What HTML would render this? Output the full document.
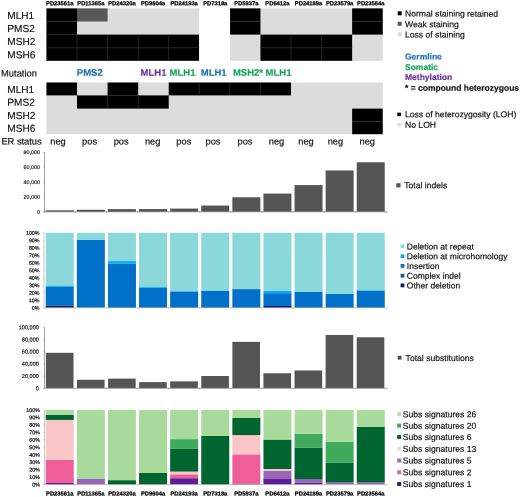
<!DOCTYPE html>
<html><head><meta charset="utf-8"><title>Figure</title>
<style>
html,body{margin:0;padding:0;background:#fff;}
svg{display:block;font-family:"Liberation Sans",Arial,sans-serif;filter:blur(0.3px);}
</style></head><body>
<svg width="520" height="497" viewBox="0 0 520 497">
<rect x="0" y="0" width="520" height="497" fill="#fff"/>
<rect x="46.45" y="8.40" width="336.27" height="52.40" fill="#dcdcdc" />
<rect x="46.45" y="8.40" width="30.57" height="13.40" fill="#000" />
<rect x="77.02" y="8.40" width="30.57" height="13.10" fill="#575757" />
<rect x="229.87" y="8.40" width="30.57" height="13.40" fill="#000" />
<rect x="352.15" y="8.40" width="30.57" height="13.40" fill="#000" />
<rect x="46.45" y="21.50" width="30.57" height="13.40" fill="#000" />
<rect x="229.87" y="21.50" width="30.57" height="13.10" fill="#000" />
<rect x="352.15" y="21.50" width="30.57" height="13.10" fill="#000" />
<rect x="46.45" y="34.60" width="152.85" height="13.40" fill="#000" />
<rect x="260.44" y="34.60" width="91.71" height="13.40" fill="#000" />
<rect x="46.45" y="47.70" width="152.85" height="13.10" fill="#000" />
<rect x="260.44" y="47.70" width="91.71" height="13.10" fill="#000" />
<rect x="199.10" y="7.90" width="30.97" height="53.40" fill="#fff" />
<line x1="46.45" y1="21.50" x2="77.02" y2="21.50" stroke="#484848" stroke-width="0.5"/>
<line x1="229.87" y1="21.50" x2="260.44" y2="21.50" stroke="#484848" stroke-width="0.5"/>
<line x1="352.15" y1="21.50" x2="382.72" y2="21.50" stroke="#484848" stroke-width="0.5"/>
<line x1="46.45" y1="34.60" x2="77.02" y2="34.60" stroke="#484848" stroke-width="0.5"/>
<line x1="77.02" y1="34.60" x2="77.02" y2="47.70" stroke="#484848" stroke-width="0.5"/>
<line x1="46.45" y1="47.70" x2="77.02" y2="47.70" stroke="#484848" stroke-width="0.5"/>
<line x1="107.59" y1="34.60" x2="107.59" y2="47.70" stroke="#484848" stroke-width="0.5"/>
<line x1="77.02" y1="47.70" x2="107.59" y2="47.70" stroke="#484848" stroke-width="0.5"/>
<line x1="138.16" y1="34.60" x2="138.16" y2="47.70" stroke="#484848" stroke-width="0.5"/>
<line x1="107.59" y1="47.70" x2="138.16" y2="47.70" stroke="#484848" stroke-width="0.5"/>
<line x1="168.73" y1="34.60" x2="168.73" y2="47.70" stroke="#484848" stroke-width="0.5"/>
<line x1="138.16" y1="47.70" x2="168.73" y2="47.70" stroke="#484848" stroke-width="0.5"/>
<line x1="168.73" y1="47.70" x2="199.30" y2="47.70" stroke="#484848" stroke-width="0.5"/>
<line x1="291.01" y1="34.60" x2="291.01" y2="47.70" stroke="#484848" stroke-width="0.5"/>
<line x1="260.44" y1="47.70" x2="291.01" y2="47.70" stroke="#484848" stroke-width="0.5"/>
<line x1="321.58" y1="34.60" x2="321.58" y2="47.70" stroke="#484848" stroke-width="0.5"/>
<line x1="291.01" y1="47.70" x2="321.58" y2="47.70" stroke="#484848" stroke-width="0.5"/>
<line x1="321.58" y1="47.70" x2="352.15" y2="47.70" stroke="#484848" stroke-width="0.5"/>
<line x1="77.02" y1="47.70" x2="77.02" y2="60.80" stroke="#484848" stroke-width="0.5"/>
<line x1="107.59" y1="47.70" x2="107.59" y2="60.80" stroke="#484848" stroke-width="0.5"/>
<line x1="138.16" y1="47.70" x2="138.16" y2="60.80" stroke="#484848" stroke-width="0.5"/>
<line x1="168.73" y1="47.70" x2="168.73" y2="60.80" stroke="#484848" stroke-width="0.5"/>
<line x1="291.01" y1="47.70" x2="291.01" y2="60.80" stroke="#484848" stroke-width="0.5"/>
<line x1="321.58" y1="47.70" x2="321.58" y2="60.80" stroke="#484848" stroke-width="0.5"/>
<rect x="46.45" y="82.50" width="336.27" height="51.70" fill="#dcdcdc" />
<rect x="46.45" y="82.50" width="30.57" height="12.90" fill="#000" />
<rect x="107.59" y="82.50" width="30.57" height="13.20" fill="#000" />
<rect x="168.73" y="82.50" width="122.28" height="12.90" fill="#000" />
<rect x="77.02" y="95.40" width="91.71" height="13.20" fill="#000" />
<rect x="352.15" y="108.60" width="30.57" height="13.10" fill="#000" />
<rect x="352.15" y="121.40" width="30.57" height="12.80" fill="#000" />
<line x1="107.59" y1="95.40" x2="138.16" y2="95.40" stroke="#484848" stroke-width="0.5"/>
<line x1="199.30" y1="82.50" x2="199.30" y2="95.40" stroke="#484848" stroke-width="0.5"/>
<line x1="229.87" y1="82.50" x2="229.87" y2="95.40" stroke="#484848" stroke-width="0.5"/>
<line x1="260.44" y1="82.50" x2="260.44" y2="95.40" stroke="#484848" stroke-width="0.5"/>
<line x1="107.59" y1="95.40" x2="107.59" y2="108.60" stroke="#484848" stroke-width="0.5"/>
<line x1="138.16" y1="95.40" x2="138.16" y2="108.60" stroke="#484848" stroke-width="0.5"/>
<line x1="352.15" y1="121.40" x2="382.72" y2="121.40" stroke="#484848" stroke-width="0.5"/>
<text x="59.75" y="5.25" transform="rotate(0.03 59.75 5.25)" font-size="5.8" fill="#000" text-anchor="middle" font-weight="bold"  stroke="#000" stroke-width="0.25">PD23561a</text>
<text x="90.85" y="5.25" transform="rotate(0.03 90.85 5.25)" font-size="5.8" fill="#000" text-anchor="middle" font-weight="bold"  stroke="#000" stroke-width="0.25">PD11365a</text>
<text x="121.95" y="5.25" transform="rotate(0.03 121.95 5.25)" font-size="5.8" fill="#000" text-anchor="middle" font-weight="bold"  stroke="#000" stroke-width="0.25">PD24320a</text>
<text x="153.05" y="5.25" transform="rotate(0.03 153.05 5.25)" font-size="5.8" fill="#000" text-anchor="middle" font-weight="bold"  stroke="#000" stroke-width="0.25">PD9604a</text>
<text x="184.15" y="5.25" transform="rotate(0.03 184.15 5.25)" font-size="5.8" fill="#000" text-anchor="middle" font-weight="bold"  stroke="#000" stroke-width="0.25">PD24193a</text>
<text x="215.25" y="5.25" transform="rotate(0.03 215.25 5.25)" font-size="5.8" fill="#000" text-anchor="middle" font-weight="bold"  stroke="#000" stroke-width="0.25">PD7318a</text>
<text x="246.35" y="5.25" transform="rotate(0.03 246.35 5.25)" font-size="5.8" fill="#000" text-anchor="middle" font-weight="bold"  stroke="#000" stroke-width="0.25">PD5937a</text>
<text x="277.45" y="5.25" transform="rotate(0.03 277.45 5.25)" font-size="5.8" fill="#000" text-anchor="middle" font-weight="bold"  stroke="#000" stroke-width="0.25">PD6412a</text>
<text x="308.55" y="5.25" transform="rotate(0.03 308.55 5.25)" font-size="5.8" fill="#000" text-anchor="middle" font-weight="bold"  stroke="#000" stroke-width="0.25">PD24189a</text>
<text x="339.65" y="5.25" transform="rotate(0.03 339.65 5.25)" font-size="5.8" fill="#000" text-anchor="middle" font-weight="bold"  stroke="#000" stroke-width="0.25">PD23579a</text>
<text x="370.75" y="5.25" transform="rotate(0.03 370.75 5.25)" font-size="5.8" fill="#000" text-anchor="middle" font-weight="bold"  stroke="#000" stroke-width="0.25">PD23564a</text>
<text x="7.30" y="18.90" transform="rotate(0.03 7.30 18.90)" font-size="10.1" fill="#111" text-anchor="start" font-weight="normal"  stroke="#111" stroke-width="0.18">MLH1</text>
<text x="7.30" y="92.90" transform="rotate(0.03 7.30 92.90)" font-size="10.1" fill="#111" text-anchor="start" font-weight="normal"  stroke="#111" stroke-width="0.18">MLH1</text>
<text x="7.30" y="32.00" transform="rotate(0.03 7.30 32.00)" font-size="10.1" fill="#111" text-anchor="start" font-weight="normal"  stroke="#111" stroke-width="0.18">PMS2</text>
<text x="7.30" y="105.80" transform="rotate(0.03 7.30 105.80)" font-size="10.1" fill="#111" text-anchor="start" font-weight="normal"  stroke="#111" stroke-width="0.18">PMS2</text>
<text x="7.30" y="45.10" transform="rotate(0.03 7.30 45.10)" font-size="10.1" fill="#111" text-anchor="start" font-weight="normal"  stroke="#111" stroke-width="0.18">MSH2</text>
<text x="7.30" y="119.00" transform="rotate(0.03 7.30 119.00)" font-size="10.1" fill="#111" text-anchor="start" font-weight="normal"  stroke="#111" stroke-width="0.18">MSH2</text>
<text x="7.30" y="58.20" transform="rotate(0.03 7.30 58.20)" font-size="10.1" fill="#111" text-anchor="start" font-weight="normal"  stroke="#111" stroke-width="0.18">MSH6</text>
<text x="7.30" y="131.80" transform="rotate(0.03 7.30 131.80)" font-size="10.1" fill="#111" text-anchor="start" font-weight="normal"  stroke="#111" stroke-width="0.18">MSH6</text>
<text x="1.00" y="76.40" transform="rotate(0.03 1.00 76.40)" font-size="9.4" fill="#111" text-anchor="start" font-weight="normal"  stroke="#111" stroke-width="0.18">Mutation</text>
<text x="1.40" y="144.40" transform="rotate(0.03 1.40 144.40)" font-size="9.3" fill="#111" text-anchor="start" font-weight="normal"  stroke="#111" stroke-width="0.18">ER status</text>
<text x="58.00" y="144.40" transform="rotate(0.03 58.00 144.40)" font-size="9.3" fill="#111" text-anchor="middle" font-weight="normal"  stroke="#111" stroke-width="0.18">neg</text>
<text x="89.60" y="144.40" transform="rotate(0.03 89.60 144.40)" font-size="9.3" fill="#111" text-anchor="middle" font-weight="normal"  stroke="#111" stroke-width="0.18">pos</text>
<text x="121.20" y="144.40" transform="rotate(0.03 121.20 144.40)" font-size="9.3" fill="#111" text-anchor="middle" font-weight="normal"  stroke="#111" stroke-width="0.18">pos</text>
<text x="152.70" y="144.40" transform="rotate(0.03 152.70 144.40)" font-size="9.3" fill="#111" text-anchor="middle" font-weight="normal"  stroke="#111" stroke-width="0.18">neg</text>
<text x="183.80" y="144.40" transform="rotate(0.03 183.80 144.40)" font-size="9.3" fill="#111" text-anchor="middle" font-weight="normal"  stroke="#111" stroke-width="0.18">pos</text>
<text x="213.00" y="144.40" transform="rotate(0.03 213.00 144.40)" font-size="9.3" fill="#111" text-anchor="middle" font-weight="normal"  stroke="#111" stroke-width="0.18">pos</text>
<text x="245.00" y="144.40" transform="rotate(0.03 245.00 144.40)" font-size="9.3" fill="#111" text-anchor="middle" font-weight="normal"  stroke="#111" stroke-width="0.18">pos</text>
<text x="276.50" y="144.40" transform="rotate(0.03 276.50 144.40)" font-size="9.3" fill="#111" text-anchor="middle" font-weight="normal"  stroke="#111" stroke-width="0.18">neg</text>
<text x="306.00" y="144.40" transform="rotate(0.03 306.00 144.40)" font-size="9.3" fill="#111" text-anchor="middle" font-weight="normal"  stroke="#111" stroke-width="0.18">neg</text>
<text x="335.40" y="144.40" transform="rotate(0.03 335.40 144.40)" font-size="9.3" fill="#111" text-anchor="middle" font-weight="normal"  stroke="#111" stroke-width="0.18">neg</text>
<text x="367.30" y="144.40" transform="rotate(0.03 367.30 144.40)" font-size="9.3" fill="#111" text-anchor="middle" font-weight="normal"  stroke="#111" stroke-width="0.18">neg</text>
<text x="76.80" y="75.80" transform="rotate(0.03 76.80 75.80)" font-size="9.5" fill="#1f6fb5" text-anchor="start" font-weight="bold"  stroke="#1f6fb5" stroke-width="0.18">PMS2</text>
<text x="140.60" y="75.80" transform="rotate(0.03 140.60 75.80)" font-size="9.5" fill="#6a2fa0" text-anchor="start" font-weight="bold"  stroke="#6a2fa0" stroke-width="0.18">MLH1</text>
<text x="169.60" y="75.80" transform="rotate(0.03 169.60 75.80)" font-size="9.5" fill="#14a558" text-anchor="start" font-weight="bold"  stroke="#14a558" stroke-width="0.18">MLH1</text>
<text x="200.80" y="75.80" transform="rotate(0.03 200.80 75.80)" font-size="9.5" fill="#1f6fb5" text-anchor="start" font-weight="bold"  stroke="#1f6fb5" stroke-width="0.18">MLH1</text>
<text x="232.90" y="75.80" transform="rotate(0.03 232.90 75.80)" font-size="9.5" fill="#14a558" text-anchor="start" font-weight="bold"  stroke="#14a558" stroke-width="0.18">MSH2*</text>
<text x="265.60" y="75.80" transform="rotate(0.03 265.60 75.80)" font-size="9.5" fill="#14a558" text-anchor="start" font-weight="bold"  stroke="#14a558" stroke-width="0.18">MLH1</text>
<rect x="397.70" y="11.30" width="4.00" height="4.00" fill="#000" />
<text x="405.00" y="16.60" transform="rotate(0.03 405.00 16.60)" font-size="8.6" fill="#111" text-anchor="start" font-weight="normal"  stroke="#111" stroke-width="0.18">Normal staining retained</text>
<rect x="397.70" y="21.80" width="4.00" height="4.00" fill="#555" />
<text x="405.00" y="27.20" transform="rotate(0.03 405.00 27.20)" font-size="8.6" fill="#111" text-anchor="start" font-weight="normal"  stroke="#111" stroke-width="0.18">Weak staining</text>
<rect x="397.70" y="32.20" width="4.00" height="4.00" fill="#dcdcdc" />
<text x="405.00" y="37.60" transform="rotate(0.03 405.00 37.60)" font-size="8.6" fill="#111" text-anchor="start" font-weight="normal"  stroke="#111" stroke-width="0.18">Loss of staining</text>
<text x="405.00" y="59.40" transform="rotate(0.03 405.00 59.40)" font-size="8.5" fill="#1f6fb5" text-anchor="start" font-weight="bold"  stroke="#1f6fb5" stroke-width="0.18">Germline</text>
<text x="405.00" y="70.00" transform="rotate(0.03 405.00 70.00)" font-size="8.5" fill="#14a558" text-anchor="start" font-weight="bold"  stroke="#14a558" stroke-width="0.18">Somatic</text>
<text x="405.00" y="80.00" transform="rotate(0.03 405.00 80.00)" font-size="8.5" fill="#6a2fa0" text-anchor="start" font-weight="bold"  stroke="#6a2fa0" stroke-width="0.18">Methylation</text>
<text x="405.00" y="90.80" transform="rotate(0.03 405.00 90.80)" font-size="8.5" fill="#111" text-anchor="start" font-weight="bold"  stroke="#111" stroke-width="0.18">* = compound heterozygous</text>
<rect x="397.30" y="112.60" width="3.60" height="3.60" fill="#000" />
<text x="405.00" y="117.30" transform="rotate(0.03 405.00 117.30)" font-size="8.6" fill="#111" text-anchor="start" font-weight="normal"  stroke="#111" stroke-width="0.18">Loss of heterozygosity (LOH)</text>
<rect x="397.30" y="122.80" width="3.60" height="3.60" fill="#dcdcdc" />
<text x="405.00" y="127.80" transform="rotate(0.03 405.00 127.80)" font-size="8.6" fill="#111" text-anchor="start" font-weight="normal"  stroke="#111" stroke-width="0.18">No LOH</text>
<rect x="45.75" y="210.31" width="28.00" height="1.49" fill="#555555" />
<rect x="76.85" y="209.79" width="28.00" height="2.01" fill="#555555" />
<rect x="107.95" y="209.12" width="28.00" height="2.68" fill="#555555" />
<rect x="139.05" y="209.04" width="28.00" height="2.76" fill="#555555" />
<rect x="170.15" y="208.60" width="28.00" height="3.20" fill="#555555" />
<rect x="201.25" y="205.54" width="28.00" height="6.26" fill="#555555" />
<rect x="232.35" y="197.27" width="28.00" height="14.53" fill="#555555" />
<rect x="263.45" y="193.55" width="28.00" height="18.25" fill="#555555" />
<rect x="294.55" y="185.05" width="28.00" height="26.75" fill="#555555" />
<rect x="325.65" y="170.45" width="28.00" height="41.35" fill="#555555" />
<rect x="356.75" y="162.26" width="28.00" height="49.54" fill="#555555" />
<line x1="44.50" y1="152.20" x2="44.50" y2="212.10" stroke="#7a7a7a" stroke-width="0.7"/>
<line x1="44.50" y1="211.80" x2="387.50" y2="211.80" stroke="#7a7a7a" stroke-width="0.7"/>
<line x1="43.30" y1="152.20" x2="44.50" y2="152.20" stroke="#7a7a7a" stroke-width="0.5"/>
<text x="40.00" y="154.13" transform="rotate(0.03 40.00 154.13)" font-size="5.4" fill="#1a1a1a" text-anchor="end" font-weight="normal"  stroke="#1a1a1a" stroke-width="0.18">80,000</text>
<line x1="43.30" y1="167.10" x2="44.50" y2="167.10" stroke="#7a7a7a" stroke-width="0.5"/>
<text x="40.00" y="169.03" transform="rotate(0.03 40.00 169.03)" font-size="5.4" fill="#1a1a1a" text-anchor="end" font-weight="normal"  stroke="#1a1a1a" stroke-width="0.18">60,000</text>
<line x1="43.30" y1="182.00" x2="44.50" y2="182.00" stroke="#7a7a7a" stroke-width="0.5"/>
<text x="40.00" y="183.93" transform="rotate(0.03 40.00 183.93)" font-size="5.4" fill="#1a1a1a" text-anchor="end" font-weight="normal"  stroke="#1a1a1a" stroke-width="0.18">40,000</text>
<line x1="43.30" y1="196.90" x2="44.50" y2="196.90" stroke="#7a7a7a" stroke-width="0.5"/>
<text x="40.00" y="198.83" transform="rotate(0.03 40.00 198.83)" font-size="5.4" fill="#1a1a1a" text-anchor="end" font-weight="normal"  stroke="#1a1a1a" stroke-width="0.18">20,000</text>
<line x1="43.30" y1="211.80" x2="44.50" y2="211.80" stroke="#7a7a7a" stroke-width="0.5"/>
<text x="40.00" y="213.73" transform="rotate(0.03 40.00 213.73)" font-size="5.4" fill="#1a1a1a" text-anchor="end" font-weight="normal"  stroke="#1a1a1a" stroke-width="0.18">0</text>
<line x1="44.20" y1="211.80" x2="44.20" y2="213.10" stroke="#7a7a7a" stroke-width="0.5"/>
<line x1="75.30" y1="211.80" x2="75.30" y2="213.10" stroke="#7a7a7a" stroke-width="0.5"/>
<line x1="106.40" y1="211.80" x2="106.40" y2="213.10" stroke="#7a7a7a" stroke-width="0.5"/>
<line x1="137.50" y1="211.80" x2="137.50" y2="213.10" stroke="#7a7a7a" stroke-width="0.5"/>
<line x1="168.60" y1="211.80" x2="168.60" y2="213.10" stroke="#7a7a7a" stroke-width="0.5"/>
<line x1="199.70" y1="211.80" x2="199.70" y2="213.10" stroke="#7a7a7a" stroke-width="0.5"/>
<line x1="230.80" y1="211.80" x2="230.80" y2="213.10" stroke="#7a7a7a" stroke-width="0.5"/>
<line x1="261.90" y1="211.80" x2="261.90" y2="213.10" stroke="#7a7a7a" stroke-width="0.5"/>
<line x1="293.00" y1="211.80" x2="293.00" y2="213.10" stroke="#7a7a7a" stroke-width="0.5"/>
<line x1="324.10" y1="211.80" x2="324.10" y2="213.10" stroke="#7a7a7a" stroke-width="0.5"/>
<line x1="355.20" y1="211.80" x2="355.20" y2="213.10" stroke="#7a7a7a" stroke-width="0.5"/>
<line x1="386.30" y1="211.80" x2="386.30" y2="213.10" stroke="#7a7a7a" stroke-width="0.5"/>
<rect x="396.30" y="183.20" width="4.20" height="4.20" fill="#555" />
<text x="404.30" y="188.30" transform="rotate(0.03 404.30 188.30)" font-size="8.6" fill="#111" text-anchor="start" font-weight="normal"  stroke="#111" stroke-width="0.18">Total indels</text>
<rect x="45.75" y="305.40" width="28.00" height="2.40" fill="#00205f" />
<rect x="45.75" y="286.65" width="28.00" height="18.85" fill="#0070c8" />
<rect x="45.75" y="285.45" width="28.00" height="1.30" fill="#00aeef" />
<rect x="45.75" y="232.80" width="28.00" height="52.75" fill="#8ad8da" />
<rect x="76.85" y="239.70" width="28.00" height="68.10" fill="#0070c8" />
<rect x="76.85" y="232.80" width="28.00" height="7.00" fill="#8ad8da" />
<rect x="107.95" y="307.20" width="28.00" height="0.60" fill="#00205f" />
<rect x="107.95" y="263.55" width="28.00" height="43.75" fill="#0070c8" />
<rect x="107.95" y="261.07" width="28.00" height="2.58" fill="#00aeef" />
<rect x="107.95" y="232.80" width="28.00" height="28.37" fill="#8ad8da" />
<rect x="139.05" y="307.20" width="28.00" height="0.60" fill="#00205f" />
<rect x="139.05" y="287.93" width="28.00" height="19.37" fill="#0070c8" />
<rect x="139.05" y="287.10" width="28.00" height="0.92" fill="#00aeef" />
<rect x="139.05" y="232.80" width="28.00" height="54.40" fill="#8ad8da" />
<rect x="170.15" y="307.20" width="28.00" height="0.60" fill="#00205f" />
<rect x="170.15" y="291.30" width="28.00" height="16.00" fill="#0070c8" />
<rect x="170.15" y="232.80" width="28.00" height="58.60" fill="#8ad8da" />
<rect x="201.25" y="307.20" width="28.00" height="0.60" fill="#00205f" />
<rect x="201.25" y="290.55" width="28.00" height="16.75" fill="#0070c8" />
<rect x="201.25" y="232.80" width="28.00" height="57.85" fill="#8ad8da" />
<rect x="232.35" y="307.20" width="28.00" height="0.60" fill="#00205f" />
<rect x="232.35" y="289.05" width="28.00" height="18.25" fill="#0070c8" />
<rect x="232.35" y="232.80" width="28.00" height="56.35" fill="#8ad8da" />
<rect x="263.45" y="305.93" width="28.00" height="1.88" fill="#00205f" />
<rect x="263.45" y="293.18" width="28.00" height="12.85" fill="#0070c8" />
<rect x="263.45" y="290.93" width="28.00" height="2.35" fill="#00aeef" />
<rect x="263.45" y="232.80" width="28.00" height="58.23" fill="#8ad8da" />
<rect x="294.55" y="307.20" width="28.00" height="0.60" fill="#00205f" />
<rect x="294.55" y="291.68" width="28.00" height="15.62" fill="#0070c8" />
<rect x="294.55" y="232.80" width="28.00" height="58.98" fill="#8ad8da" />
<rect x="325.65" y="307.20" width="28.00" height="0.60" fill="#00205f" />
<rect x="325.65" y="293.93" width="28.00" height="13.37" fill="#0070c8" />
<rect x="325.65" y="232.80" width="28.00" height="61.23" fill="#8ad8da" />
<rect x="356.75" y="307.20" width="28.00" height="0.60" fill="#00205f" />
<rect x="356.75" y="290.93" width="28.00" height="16.37" fill="#0070c8" />
<rect x="356.75" y="290.18" width="28.00" height="0.85" fill="#00aeef" />
<rect x="356.75" y="232.80" width="28.00" height="57.48" fill="#8ad8da" />
<line x1="43.90" y1="232.80" x2="43.90" y2="308.10" stroke="#b5b5b5" stroke-width="0.7"/>
<line x1="43.90" y1="307.80" x2="387.50" y2="307.80" stroke="#b5b5b5" stroke-width="0.7"/>
<line x1="42.70" y1="232.80" x2="43.90" y2="232.80" stroke="#b5b5b5" stroke-width="0.5"/>
<text x="39.50" y="234.70" transform="rotate(0.03 39.50 234.70)" font-size="5.3" fill="#000" text-anchor="end" font-weight="normal"  stroke="#000" stroke-width="0.18">100%</text>
<line x1="42.70" y1="240.30" x2="43.90" y2="240.30" stroke="#b5b5b5" stroke-width="0.5"/>
<text x="39.50" y="242.20" transform="rotate(0.03 39.50 242.20)" font-size="5.3" fill="#000" text-anchor="end" font-weight="normal"  stroke="#000" stroke-width="0.18">90%</text>
<line x1="42.70" y1="247.80" x2="43.90" y2="247.80" stroke="#b5b5b5" stroke-width="0.5"/>
<text x="39.50" y="249.70" transform="rotate(0.03 39.50 249.70)" font-size="5.3" fill="#000" text-anchor="end" font-weight="normal"  stroke="#000" stroke-width="0.18">80%</text>
<line x1="42.70" y1="255.30" x2="43.90" y2="255.30" stroke="#b5b5b5" stroke-width="0.5"/>
<text x="39.50" y="257.20" transform="rotate(0.03 39.50 257.20)" font-size="5.3" fill="#000" text-anchor="end" font-weight="normal"  stroke="#000" stroke-width="0.18">70%</text>
<line x1="42.70" y1="262.80" x2="43.90" y2="262.80" stroke="#b5b5b5" stroke-width="0.5"/>
<text x="39.50" y="264.70" transform="rotate(0.03 39.50 264.70)" font-size="5.3" fill="#000" text-anchor="end" font-weight="normal"  stroke="#000" stroke-width="0.18">60%</text>
<line x1="42.70" y1="270.30" x2="43.90" y2="270.30" stroke="#b5b5b5" stroke-width="0.5"/>
<text x="39.50" y="272.20" transform="rotate(0.03 39.50 272.20)" font-size="5.3" fill="#000" text-anchor="end" font-weight="normal"  stroke="#000" stroke-width="0.18">50%</text>
<line x1="42.70" y1="277.80" x2="43.90" y2="277.80" stroke="#b5b5b5" stroke-width="0.5"/>
<text x="39.50" y="279.70" transform="rotate(0.03 39.50 279.70)" font-size="5.3" fill="#000" text-anchor="end" font-weight="normal"  stroke="#000" stroke-width="0.18">40%</text>
<line x1="42.70" y1="285.30" x2="43.90" y2="285.30" stroke="#b5b5b5" stroke-width="0.5"/>
<text x="39.50" y="287.20" transform="rotate(0.03 39.50 287.20)" font-size="5.3" fill="#000" text-anchor="end" font-weight="normal"  stroke="#000" stroke-width="0.18">30%</text>
<line x1="42.70" y1="292.80" x2="43.90" y2="292.80" stroke="#b5b5b5" stroke-width="0.5"/>
<text x="39.50" y="294.70" transform="rotate(0.03 39.50 294.70)" font-size="5.3" fill="#000" text-anchor="end" font-weight="normal"  stroke="#000" stroke-width="0.18">20%</text>
<line x1="42.70" y1="300.30" x2="43.90" y2="300.30" stroke="#b5b5b5" stroke-width="0.5"/>
<text x="39.50" y="302.20" transform="rotate(0.03 39.50 302.20)" font-size="5.3" fill="#000" text-anchor="end" font-weight="normal"  stroke="#000" stroke-width="0.18">10%</text>
<line x1="42.70" y1="307.80" x2="43.90" y2="307.80" stroke="#b5b5b5" stroke-width="0.5"/>
<text x="39.50" y="309.70" transform="rotate(0.03 39.50 309.70)" font-size="5.3" fill="#000" text-anchor="end" font-weight="normal"  stroke="#000" stroke-width="0.18">0%</text>
<line x1="44.20" y1="307.80" x2="44.20" y2="309.10" stroke="#b5b5b5" stroke-width="0.5"/>
<line x1="75.30" y1="307.80" x2="75.30" y2="309.10" stroke="#b5b5b5" stroke-width="0.5"/>
<line x1="106.40" y1="307.80" x2="106.40" y2="309.10" stroke="#b5b5b5" stroke-width="0.5"/>
<line x1="137.50" y1="307.80" x2="137.50" y2="309.10" stroke="#b5b5b5" stroke-width="0.5"/>
<line x1="168.60" y1="307.80" x2="168.60" y2="309.10" stroke="#b5b5b5" stroke-width="0.5"/>
<line x1="199.70" y1="307.80" x2="199.70" y2="309.10" stroke="#b5b5b5" stroke-width="0.5"/>
<line x1="230.80" y1="307.80" x2="230.80" y2="309.10" stroke="#b5b5b5" stroke-width="0.5"/>
<line x1="261.90" y1="307.80" x2="261.90" y2="309.10" stroke="#b5b5b5" stroke-width="0.5"/>
<line x1="293.00" y1="307.80" x2="293.00" y2="309.10" stroke="#b5b5b5" stroke-width="0.5"/>
<line x1="324.10" y1="307.80" x2="324.10" y2="309.10" stroke="#b5b5b5" stroke-width="0.5"/>
<line x1="355.20" y1="307.80" x2="355.20" y2="309.10" stroke="#b5b5b5" stroke-width="0.5"/>
<line x1="386.30" y1="307.80" x2="386.30" y2="309.10" stroke="#b5b5b5" stroke-width="0.5"/>
<rect x="400.60" y="244.40" width="3.80" height="3.80" fill="#8ad8da" />
<text x="406.80" y="249.40" transform="rotate(0.03 406.80 249.40)" font-size="8.5" fill="#111" text-anchor="start" font-weight="normal"  stroke="#111" stroke-width="0.18">Deletion at repeat</text>
<rect x="400.60" y="254.30" width="3.80" height="3.80" fill="#00aeef" />
<text x="406.80" y="259.30" transform="rotate(0.03 406.80 259.30)" font-size="8.5" fill="#111" text-anchor="start" font-weight="normal"  stroke="#111" stroke-width="0.18">Deletion at microhomology</text>
<rect x="400.60" y="264.00" width="3.80" height="3.80" fill="#0070c8" />
<text x="406.80" y="269.00" transform="rotate(0.03 406.80 269.00)" font-size="8.5" fill="#111" text-anchor="start" font-weight="normal"  stroke="#111" stroke-width="0.18">Insertion</text>
<rect x="400.60" y="273.80" width="3.80" height="3.80" fill="#1f5c85" />
<text x="406.80" y="278.80" transform="rotate(0.03 406.80 278.80)" font-size="8.5" fill="#111" text-anchor="start" font-weight="normal"  stroke="#111" stroke-width="0.18">Complex indel</text>
<rect x="400.60" y="283.50" width="3.80" height="3.80" fill="#00205f" />
<text x="406.80" y="288.50" transform="rotate(0.03 406.80 288.50)" font-size="8.5" fill="#111" text-anchor="start" font-weight="normal"  stroke="#111" stroke-width="0.18">Other deletion</text>
<rect x="45.90" y="352.82" width="27.60" height="35.38" fill="#555555" />
<rect x="76.98" y="379.78" width="27.60" height="8.42" fill="#555555" />
<rect x="108.06" y="378.62" width="27.60" height="9.58" fill="#555555" />
<rect x="139.14" y="382.10" width="27.60" height="6.10" fill="#555555" />
<rect x="170.22" y="381.37" width="27.60" height="6.83" fill="#555555" />
<rect x="201.30" y="376.00" width="27.60" height="12.20" fill="#555555" />
<rect x="232.38" y="341.84" width="27.60" height="46.36" fill="#555555" />
<rect x="263.46" y="373.25" width="27.60" height="14.95" fill="#555555" />
<rect x="294.54" y="370.51" width="27.60" height="17.69" fill="#555555" />
<rect x="325.62" y="334.95" width="27.60" height="53.25" fill="#555555" />
<rect x="356.70" y="337.26" width="27.60" height="50.93" fill="#555555" />
<line x1="44.50" y1="327.20" x2="44.50" y2="388.50" stroke="#7a7a7a" stroke-width="0.7"/>
<line x1="44.50" y1="388.20" x2="387.50" y2="388.20" stroke="#7a7a7a" stroke-width="0.7"/>
<line x1="43.30" y1="327.20" x2="44.50" y2="327.20" stroke="#7a7a7a" stroke-width="0.5"/>
<text x="38.90" y="329.20" transform="rotate(0.03 38.90 329.20)" font-size="5.6" fill="#1a1a1a" text-anchor="end" font-weight="normal"  stroke="#1a1a1a" stroke-width="0.18">100,000</text>
<line x1="43.30" y1="339.40" x2="44.50" y2="339.40" stroke="#7a7a7a" stroke-width="0.5"/>
<text x="38.90" y="341.40" transform="rotate(0.03 38.90 341.40)" font-size="5.6" fill="#1a1a1a" text-anchor="end" font-weight="normal"  stroke="#1a1a1a" stroke-width="0.18">80,000</text>
<line x1="43.30" y1="351.60" x2="44.50" y2="351.60" stroke="#7a7a7a" stroke-width="0.5"/>
<text x="38.90" y="353.60" transform="rotate(0.03 38.90 353.60)" font-size="5.6" fill="#1a1a1a" text-anchor="end" font-weight="normal"  stroke="#1a1a1a" stroke-width="0.18">60,000</text>
<line x1="43.30" y1="363.80" x2="44.50" y2="363.80" stroke="#7a7a7a" stroke-width="0.5"/>
<text x="38.90" y="365.80" transform="rotate(0.03 38.90 365.80)" font-size="5.6" fill="#1a1a1a" text-anchor="end" font-weight="normal"  stroke="#1a1a1a" stroke-width="0.18">40,000</text>
<line x1="43.30" y1="376.00" x2="44.50" y2="376.00" stroke="#7a7a7a" stroke-width="0.5"/>
<text x="38.90" y="378.00" transform="rotate(0.03 38.90 378.00)" font-size="5.6" fill="#1a1a1a" text-anchor="end" font-weight="normal"  stroke="#1a1a1a" stroke-width="0.18">20,000</text>
<line x1="43.30" y1="388.20" x2="44.50" y2="388.20" stroke="#7a7a7a" stroke-width="0.5"/>
<text x="38.90" y="390.20" transform="rotate(0.03 38.90 390.20)" font-size="5.6" fill="#1a1a1a" text-anchor="end" font-weight="normal"  stroke="#1a1a1a" stroke-width="0.18">0</text>
<line x1="44.20" y1="388.20" x2="44.20" y2="389.50" stroke="#7a7a7a" stroke-width="0.5"/>
<line x1="75.30" y1="388.20" x2="75.30" y2="389.50" stroke="#7a7a7a" stroke-width="0.5"/>
<line x1="106.40" y1="388.20" x2="106.40" y2="389.50" stroke="#7a7a7a" stroke-width="0.5"/>
<line x1="137.50" y1="388.20" x2="137.50" y2="389.50" stroke="#7a7a7a" stroke-width="0.5"/>
<line x1="168.60" y1="388.20" x2="168.60" y2="389.50" stroke="#7a7a7a" stroke-width="0.5"/>
<line x1="199.70" y1="388.20" x2="199.70" y2="389.50" stroke="#7a7a7a" stroke-width="0.5"/>
<line x1="230.80" y1="388.20" x2="230.80" y2="389.50" stroke="#7a7a7a" stroke-width="0.5"/>
<line x1="261.90" y1="388.20" x2="261.90" y2="389.50" stroke="#7a7a7a" stroke-width="0.5"/>
<line x1="293.00" y1="388.20" x2="293.00" y2="389.50" stroke="#7a7a7a" stroke-width="0.5"/>
<line x1="324.10" y1="388.20" x2="324.10" y2="389.50" stroke="#7a7a7a" stroke-width="0.5"/>
<line x1="355.20" y1="388.20" x2="355.20" y2="389.50" stroke="#7a7a7a" stroke-width="0.5"/>
<line x1="386.30" y1="388.20" x2="386.30" y2="389.50" stroke="#7a7a7a" stroke-width="0.5"/>
<rect x="397.70" y="355.80" width="3.80" height="3.80" fill="#4a4a4a" />
<text x="405.60" y="361.00" transform="rotate(0.03 405.60 361.00)" font-size="8.6" fill="#111" text-anchor="start" font-weight="normal"  stroke="#111" stroke-width="0.18">Total substitutions</text>
<rect x="45.75" y="482.81" width="28.00" height="1.79" fill="#5a1e96" />
<rect x="45.75" y="459.76" width="28.00" height="23.15" fill="#ee5f9a" />
<rect x="45.75" y="419.85" width="28.00" height="40.01" fill="#fbc6c8" />
<rect x="45.75" y="414.77" width="28.00" height="5.17" fill="#00662f" />
<rect x="45.75" y="410.00" width="28.00" height="4.87" fill="#a8db9b" />
<rect x="76.85" y="478.86" width="28.00" height="5.74" fill="#9a66b8" />
<rect x="76.85" y="410.00" width="28.00" height="68.96" fill="#a8db9b" />
<rect x="107.95" y="480.12" width="28.00" height="4.48" fill="#00662f" />
<rect x="107.95" y="410.00" width="28.00" height="70.22" fill="#a8db9b" />
<rect x="139.05" y="472.89" width="28.00" height="11.71" fill="#00662f" />
<rect x="139.05" y="410.00" width="28.00" height="62.99" fill="#a8db9b" />
<rect x="170.15" y="478.18" width="28.00" height="6.42" fill="#5a1e96" />
<rect x="170.15" y="474.31" width="28.00" height="3.98" fill="#ee5f9a" />
<rect x="170.15" y="471.47" width="28.00" height="2.93" fill="#fbc6c8" />
<rect x="170.15" y="448.79" width="28.00" height="22.78" fill="#00662f" />
<rect x="170.15" y="439.09" width="28.00" height="9.80" fill="#3fa95c" />
<rect x="170.15" y="410.00" width="28.00" height="29.19" fill="#a8db9b" />
<rect x="201.25" y="435.81" width="28.00" height="48.79" fill="#00662f" />
<rect x="201.25" y="410.00" width="28.00" height="25.91" fill="#a8db9b" />
<rect x="232.35" y="483.85" width="28.00" height="0.75" fill="#5a1e96" />
<rect x="232.35" y="454.31" width="28.00" height="29.64" fill="#ee5f9a" />
<rect x="232.35" y="434.99" width="28.00" height="19.42" fill="#fbc6c8" />
<rect x="232.35" y="417.83" width="28.00" height="17.26" fill="#00662f" />
<rect x="232.35" y="410.00" width="28.00" height="7.93" fill="#a8db9b" />
<rect x="263.45" y="478.93" width="28.00" height="5.67" fill="#5a1e96" />
<rect x="263.45" y="470.72" width="28.00" height="8.31" fill="#9a66b8" />
<rect x="263.45" y="468.93" width="28.00" height="1.89" fill="#fbc6c8" />
<rect x="263.45" y="439.54" width="28.00" height="29.49" fill="#00662f" />
<rect x="263.45" y="410.00" width="28.00" height="29.64" fill="#a8db9b" />
<rect x="294.55" y="482.81" width="28.00" height="1.79" fill="#5a1e96" />
<rect x="294.55" y="478.93" width="28.00" height="3.98" fill="#9a66b8" />
<rect x="294.55" y="447.67" width="28.00" height="31.36" fill="#00662f" />
<rect x="294.55" y="433.87" width="28.00" height="13.90" fill="#3fa95c" />
<rect x="294.55" y="410.00" width="28.00" height="23.97" fill="#a8db9b" />
<rect x="325.65" y="482.06" width="28.00" height="2.54" fill="#9a66b8" />
<rect x="325.65" y="462.74" width="28.00" height="19.42" fill="#00662f" />
<rect x="325.65" y="441.85" width="28.00" height="20.99" fill="#3fa95c" />
<rect x="325.65" y="410.00" width="28.00" height="31.95" fill="#a8db9b" />
<rect x="356.75" y="482.06" width="28.00" height="2.54" fill="#9a66b8" />
<rect x="356.75" y="426.71" width="28.00" height="55.45" fill="#00662f" />
<rect x="356.75" y="410.00" width="28.00" height="16.81" fill="#a8db9b" />
<line x1="44.50" y1="410.00" x2="44.50" y2="484.90" stroke="#b5b5b5" stroke-width="0.7"/>
<line x1="44.50" y1="484.60" x2="387.50" y2="484.60" stroke="#b5b5b5" stroke-width="0.7"/>
<line x1="43.30" y1="410.00" x2="44.50" y2="410.00" stroke="#b5b5b5" stroke-width="0.5"/>
<text x="39.90" y="411.90" transform="rotate(0.03 39.90 411.90)" font-size="5.3" fill="#000" text-anchor="end" font-weight="normal"  stroke="#000" stroke-width="0.18">100%</text>
<line x1="43.30" y1="417.46" x2="44.50" y2="417.46" stroke="#b5b5b5" stroke-width="0.5"/>
<text x="39.90" y="419.36" transform="rotate(0.03 39.90 419.36)" font-size="5.3" fill="#000" text-anchor="end" font-weight="normal"  stroke="#000" stroke-width="0.18">90%</text>
<line x1="43.30" y1="424.92" x2="44.50" y2="424.92" stroke="#b5b5b5" stroke-width="0.5"/>
<text x="39.90" y="426.82" transform="rotate(0.03 39.90 426.82)" font-size="5.3" fill="#000" text-anchor="end" font-weight="normal"  stroke="#000" stroke-width="0.18">80%</text>
<line x1="43.30" y1="432.38" x2="44.50" y2="432.38" stroke="#b5b5b5" stroke-width="0.5"/>
<text x="39.90" y="434.28" transform="rotate(0.03 39.90 434.28)" font-size="5.3" fill="#000" text-anchor="end" font-weight="normal"  stroke="#000" stroke-width="0.18">70%</text>
<line x1="43.30" y1="439.84" x2="44.50" y2="439.84" stroke="#b5b5b5" stroke-width="0.5"/>
<text x="39.90" y="441.74" transform="rotate(0.03 39.90 441.74)" font-size="5.3" fill="#000" text-anchor="end" font-weight="normal"  stroke="#000" stroke-width="0.18">60%</text>
<line x1="43.30" y1="447.30" x2="44.50" y2="447.30" stroke="#b5b5b5" stroke-width="0.5"/>
<text x="39.90" y="449.20" transform="rotate(0.03 39.90 449.20)" font-size="5.3" fill="#000" text-anchor="end" font-weight="normal"  stroke="#000" stroke-width="0.18">50%</text>
<line x1="43.30" y1="454.76" x2="44.50" y2="454.76" stroke="#b5b5b5" stroke-width="0.5"/>
<text x="39.90" y="456.66" transform="rotate(0.03 39.90 456.66)" font-size="5.3" fill="#000" text-anchor="end" font-weight="normal"  stroke="#000" stroke-width="0.18">40%</text>
<line x1="43.30" y1="462.22" x2="44.50" y2="462.22" stroke="#b5b5b5" stroke-width="0.5"/>
<text x="39.90" y="464.12" transform="rotate(0.03 39.90 464.12)" font-size="5.3" fill="#000" text-anchor="end" font-weight="normal"  stroke="#000" stroke-width="0.18">30%</text>
<line x1="43.30" y1="469.68" x2="44.50" y2="469.68" stroke="#b5b5b5" stroke-width="0.5"/>
<text x="39.90" y="471.58" transform="rotate(0.03 39.90 471.58)" font-size="5.3" fill="#000" text-anchor="end" font-weight="normal"  stroke="#000" stroke-width="0.18">20%</text>
<line x1="43.30" y1="477.14" x2="44.50" y2="477.14" stroke="#b5b5b5" stroke-width="0.5"/>
<text x="39.90" y="479.04" transform="rotate(0.03 39.90 479.04)" font-size="5.3" fill="#000" text-anchor="end" font-weight="normal"  stroke="#000" stroke-width="0.18">10%</text>
<line x1="43.30" y1="484.60" x2="44.50" y2="484.60" stroke="#b5b5b5" stroke-width="0.5"/>
<text x="39.90" y="486.50" transform="rotate(0.03 39.90 486.50)" font-size="5.3" fill="#000" text-anchor="end" font-weight="normal"  stroke="#000" stroke-width="0.18">0%</text>
<line x1="44.20" y1="484.60" x2="44.20" y2="485.90" stroke="#b5b5b5" stroke-width="0.5"/>
<line x1="75.30" y1="484.60" x2="75.30" y2="485.90" stroke="#b5b5b5" stroke-width="0.5"/>
<line x1="106.40" y1="484.60" x2="106.40" y2="485.90" stroke="#b5b5b5" stroke-width="0.5"/>
<line x1="137.50" y1="484.60" x2="137.50" y2="485.90" stroke="#b5b5b5" stroke-width="0.5"/>
<line x1="168.60" y1="484.60" x2="168.60" y2="485.90" stroke="#b5b5b5" stroke-width="0.5"/>
<line x1="199.70" y1="484.60" x2="199.70" y2="485.90" stroke="#b5b5b5" stroke-width="0.5"/>
<line x1="230.80" y1="484.60" x2="230.80" y2="485.90" stroke="#b5b5b5" stroke-width="0.5"/>
<line x1="261.90" y1="484.60" x2="261.90" y2="485.90" stroke="#b5b5b5" stroke-width="0.5"/>
<line x1="293.00" y1="484.60" x2="293.00" y2="485.90" stroke="#b5b5b5" stroke-width="0.5"/>
<line x1="324.10" y1="484.60" x2="324.10" y2="485.90" stroke="#b5b5b5" stroke-width="0.5"/>
<line x1="355.20" y1="484.60" x2="355.20" y2="485.90" stroke="#b5b5b5" stroke-width="0.5"/>
<line x1="386.30" y1="484.60" x2="386.30" y2="485.90" stroke="#b5b5b5" stroke-width="0.5"/>
<text x="59.75" y="495.60" transform="rotate(0.03 59.75 495.60)" font-size="5.8" fill="#000" text-anchor="middle" font-weight="bold"  stroke="#000" stroke-width="0.25">PD23561a</text>
<text x="90.85" y="495.60" transform="rotate(0.03 90.85 495.60)" font-size="5.8" fill="#000" text-anchor="middle" font-weight="bold"  stroke="#000" stroke-width="0.25">PD11365a</text>
<text x="121.95" y="495.60" transform="rotate(0.03 121.95 495.60)" font-size="5.8" fill="#000" text-anchor="middle" font-weight="bold"  stroke="#000" stroke-width="0.25">PD24320a</text>
<text x="153.05" y="495.60" transform="rotate(0.03 153.05 495.60)" font-size="5.8" fill="#000" text-anchor="middle" font-weight="bold"  stroke="#000" stroke-width="0.25">PD9604a</text>
<text x="184.15" y="495.60" transform="rotate(0.03 184.15 495.60)" font-size="5.8" fill="#000" text-anchor="middle" font-weight="bold"  stroke="#000" stroke-width="0.25">PD24193a</text>
<text x="215.25" y="495.60" transform="rotate(0.03 215.25 495.60)" font-size="5.8" fill="#000" text-anchor="middle" font-weight="bold"  stroke="#000" stroke-width="0.25">PD7318a</text>
<text x="246.35" y="495.60" transform="rotate(0.03 246.35 495.60)" font-size="5.8" fill="#000" text-anchor="middle" font-weight="bold"  stroke="#000" stroke-width="0.25">PD5937a</text>
<text x="277.45" y="495.60" transform="rotate(0.03 277.45 495.60)" font-size="5.8" fill="#000" text-anchor="middle" font-weight="bold"  stroke="#000" stroke-width="0.25">PD6412a</text>
<text x="308.55" y="495.60" transform="rotate(0.03 308.55 495.60)" font-size="5.8" fill="#000" text-anchor="middle" font-weight="bold"  stroke="#000" stroke-width="0.25">PD24189a</text>
<text x="339.65" y="495.60" transform="rotate(0.03 339.65 495.60)" font-size="5.8" fill="#000" text-anchor="middle" font-weight="bold"  stroke="#000" stroke-width="0.25">PD23579a</text>
<text x="370.75" y="495.60" transform="rotate(0.03 370.75 495.60)" font-size="5.8" fill="#000" text-anchor="middle" font-weight="bold"  stroke="#000" stroke-width="0.25">PD23564a</text>
<rect x="397.20" y="412.20" width="4.00" height="4.00" fill="#b4deab" />
<text x="402.80" y="417.25" transform="rotate(0.03 402.80 417.25)" font-size="8.6" fill="#111" text-anchor="start" font-weight="normal"  stroke="#111" stroke-width="0.18">Subs signatures 26</text>
<rect x="397.20" y="423.60" width="4.00" height="4.00" fill="#4a9f68" />
<text x="402.80" y="428.65" transform="rotate(0.03 402.80 428.65)" font-size="8.6" fill="#111" text-anchor="start" font-weight="normal"  stroke="#111" stroke-width="0.18">Subs signatures 20</text>
<rect x="397.20" y="435.00" width="4.00" height="4.00" fill="#0b5c33" />
<text x="402.80" y="440.05" transform="rotate(0.03 402.80 440.05)" font-size="8.6" fill="#111" text-anchor="start" font-weight="normal"  stroke="#111" stroke-width="0.18">Subs signatures 6</text>
<rect x="397.20" y="446.80" width="4.00" height="4.00" fill="#f3d6d3" />
<text x="402.80" y="451.85" transform="rotate(0.03 402.80 451.85)" font-size="8.6" fill="#111" text-anchor="start" font-weight="normal"  stroke="#111" stroke-width="0.18">Subs signatures 13</text>
<rect x="397.20" y="458.50" width="4.00" height="4.00" fill="#8c78b0" />
<text x="402.80" y="463.55" transform="rotate(0.03 402.80 463.55)" font-size="8.6" fill="#111" text-anchor="start" font-weight="normal"  stroke="#111" stroke-width="0.18">Subs signatures 5</text>
<rect x="397.20" y="470.30" width="4.00" height="4.00" fill="#d0709c" />
<text x="402.80" y="475.35" transform="rotate(0.03 402.80 475.35)" font-size="8.6" fill="#111" text-anchor="start" font-weight="normal"  stroke="#111" stroke-width="0.18">Subs signatures 2</text>
<rect x="397.20" y="482.00" width="4.00" height="4.00" fill="#2e1f7c" />
<text x="402.80" y="487.05" transform="rotate(0.03 402.80 487.05)" font-size="8.6" fill="#111" text-anchor="start" font-weight="normal"  stroke="#111" stroke-width="0.18">Subs signatures 1</text>
</svg>
</body></html>
